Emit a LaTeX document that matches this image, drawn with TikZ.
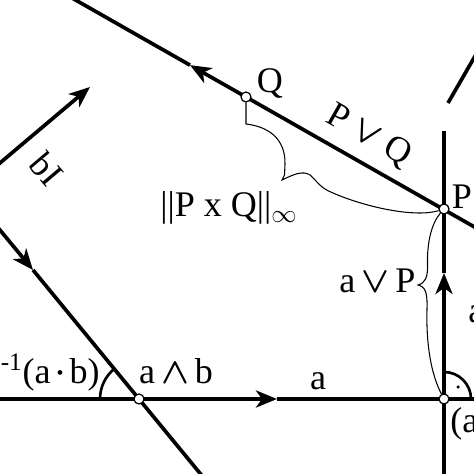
\documentclass[tikz,border=0pt]{standalone}
\usepackage{fontspec}
\setmainfont{Liberation Serif}
\usetikzlibrary{arrows.meta}
\newcommand\opmeet{\mbox{\boldmath$\wedge$}}
\newcommand\opjoin{\mbox{\boldmath$\vee$}}
\newcommand\opdot{\raisebox{0.12em}{\scalebox{0.55}{\textbullet}}}
\begin{document}
\begin{tikzpicture}[font=\fontsize{20.5}{24}\selectfont,
  ln/.style={line width=2.1pt},
  brc/.style={line width=0.6pt},
  pt/.style={circle,draw,fill=white,inner sep=0pt,minimum size=0.2cm,line width=0.7pt},
  arr/.style={-{Stealth[length=0.42cm,width=0.34cm,inset=0.12cm]}},
  lbl/.style={inner sep=0pt}]
\useasboundingbox (0,0) rectangle (9.48,9.48);
\clip (0,0) rectangle (9.48,9.48);
\coordinate (aL) at (-0.2,1.5);
\coordinate (aR) at (9.7,1.5);
\coordinate (aTip) at (5.54,1.5);
\coordinate (bL) at (-0.2,5.12);
\coordinate (bR) at (4.2,-0.23);
\coordinate (bTip) at (0.66,4.08);
\coordinate (pqL) at (1.3,9.6);
\coordinate (pqR) at (9.7,4.82);
\coordinate (pqTip) at (3.80,8.177);
\coordinate (vTop) at (8.88,6.86);
\coordinate (vBot) at (8.88,-0.2);
\coordinate (vTip) at (8.88,4.02);
\coordinate (cA) at (8.96,7.42);
\coordinate (cB) at (9.6,8.53);
\coordinate (dA) at (-0.1,6.136);
\coordinate (dTip) at (1.80,7.74);

\draw[ln,arr] (aL) -- (aTip);
\draw[ln] (aTip) -- (aR);
\draw[ln,arr] (bL) -- (bTip);
\draw[ln] (bTip) -- (bR);
\draw[ln,arr] (pqR) -- (pqTip);
\draw[ln] (pqTip) -- (pqL);
\draw[ln,arr] (vBot) -- (vTip);
\draw[ln] (vTip) -- (vTop);
\draw[ln] (cA) -- (cB);
\draw[ln,arr] (dA) -- (dTip);

\draw[line width=1.5pt] (2.78,1.5) ++(180:0.78) arc[start angle=180,end angle=129.4,radius=0.78];
\draw[line width=1.5pt] (8.88,1.5) ++(0:0.54) arc[start angle=0,end angle=90,radius=0.54];
\node[circle,fill,inner sep=0pt,minimum size=0.07cm] (rdot) at (9.16,1.74) {};

\node[pt] (ab) at (2.78,1.5) {};
\node[pt] (foot) at (8.88,1.5) {};
\node[pt] (P) at (8.88,5.30) {};
\node[pt] (Q) at (4.92,7.54) {};

\draw[brc] (Q) -- (4.92,7.0) .. controls (5.35,6.95) and (5.71,6.72) .. (5.70,6.2)
  -- (5.69,5.98) -- (5.64,5.88) .. controls (5.85,5.98) and (6.05,6.08) .. (6.2,5.98)
  .. controls (6.35,5.85) and (6.4,5.72) .. (6.66,5.62) .. controls (7.3,5.34) and (8.3,5.12) .. (P);
\draw[brc] (P) .. controls (8.62,5.0) and (8.54,4.6) .. (8.55,4.2)
  .. controls (8.56,3.92) and (8.5,3.82) .. (8.36,3.78)
  .. controls (8.5,3.74) and (8.55,3.66) .. (8.54,3.3)
  .. controls (8.52,2.6) and (8.62,2.0) .. (foot);

\node[lbl,anchor=base] (lab) at (3.52,1.80) {a\,\opmeet\,b};
\node[lbl,anchor=base] (la) at (6.36,1.68) {a};
\node[lbl,anchor=base east] (lang) at (2.0,1.80) {\textsuperscript{-1}(a\,\opdot\,b)};
\node[lbl,anchor=base west] (lnorm) at (3.20,5.14) {||P x Q||$_\infty$};
\node[lbl,anchor=base west] (ljoin) at (6.78,3.62) {a\,\opjoin\,P};
\node[lbl] (lQ) at (5.40,7.80) {Q};
\node[lbl] (lP) at (9.24,5.54) {P};
\node[lbl,rotate=-29.6] (lPQ) at (7.38,6.76) {P \opjoin\ Q};
\node[lbl,rotate=-49.8] (lbI) at (0.94,6.10) {bI};
\node[lbl,anchor=base west] (lfoot) at (9.0,0.82) {(a};
\node[lbl,anchor=base west] (lcut) at (9.36,3.02) {a};
\end{tikzpicture}
\end{document}
